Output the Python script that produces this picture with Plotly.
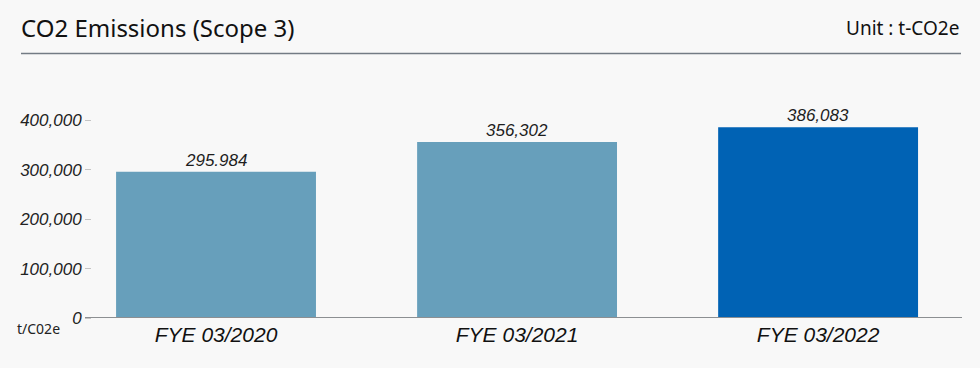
import plotly.graph_objects as go

categories = ["FYE 03/2020", "FYE 03/2021", "FYE 03/2022"]
values = [295984, 356302, 386083]
value_labels = ["295.984", "356,302", "386,083"]
bar_colors = ["#679fbb", "#679fbb", "#0062b4"]
y_tickvals = [0, 100000, 200000, 300000, 400000]
y_ticktext = ["0", "100,000", "200,000", "300,000", "400,000"]

W, H = 980, 368
L, R, T, B = 92, 18, 108, 50
pw = W - L - R
ph = H - T - B

def px_x(x):
    return (x - L) / pw

def px_y(y):
    return (H - B - y) / ph

fig = go.Figure()
fig.add_trace(go.Bar(
    x=list(range(len(categories))),
    y=values,
    width=0.664,
    marker=dict(color=bar_colors, line=dict(width=0)),
    hoverinfo="skip",
))

for i, (v, lab) in enumerate(zip(values, value_labels)):
    fig.add_annotation(x=i, y=v, xref="x", yref="y", text=lab, showarrow=False,
                       yanchor="bottom", yshift=0,
                       font=dict(family="Liberation Sans", size=17, color="#1e1e1e", style="italic"))

fig.update_layout(
    width=W, height=H,
    margin=dict(l=L, r=R, t=T, b=B),
    paper_bgcolor="#f8f8f8",
    plot_bgcolor="#f8f8f8",
    showlegend=False,
    xaxis=dict(
        range=[-0.412, 2.478],
        tickvals=list(range(len(categories))),
        ticktext=categories,
        tickfont=dict(family="Liberation Sans", size=21, color="#111111", style="italic"),
        showgrid=False, zeroline=False, showline=False, ticks="",
        ticklabelstandoff=2,
    ),
    yaxis=dict(
        range=[0, 425000],
        tickvals=y_tickvals,
        ticktext=y_ticktext,
        tickfont=dict(family="Liberation Sans", size=17, color="#222222", style="italic"),
        showgrid=False, zeroline=False, showline=False,
        ticks="outside", ticklen=6, tickcolor="#c4c4c4", tickwidth=1,
    ),
)

# baseline
fig.add_shape(type="line", xref="paper", yref="y", x0=px_x(85), x1=px_x(962), y0=0, y1=0,
              line=dict(color="#8c8f92", width=2), layer="above")
# header rule
fig.add_shape(type="line", xref="paper", yref="paper", x0=px_x(21), x1=px_x(961),
              y0=px_y(53.5), y1=px_y(53.5), line=dict(color="#737b84", width=1.5))

fig.add_annotation(text="CO2 Emissions (Scope 3)", xref="paper", yref="paper",
                   x=px_x(19), y=px_y(27), xanchor="left", yanchor="middle", showarrow=False,
                   font=dict(family="Noto Sans", size=24, color="#111111"))
fig.add_annotation(text="Unit : t-CO2e", xref="paper", yref="paper",
                   x=px_x(961), y=px_y(28), xanchor="right", yanchor="middle", showarrow=False,
                   font=dict(family="Noto Sans", size=19, color="#111111"))
fig.add_annotation(text="t/C02e", xref="paper", yref="paper",
                   x=px_x(15), y=px_y(328), xanchor="left", yanchor="middle", showarrow=False,
                   font=dict(family="Noto Sans", size=14, color="#222222"))

fig.write_html("out.html")
